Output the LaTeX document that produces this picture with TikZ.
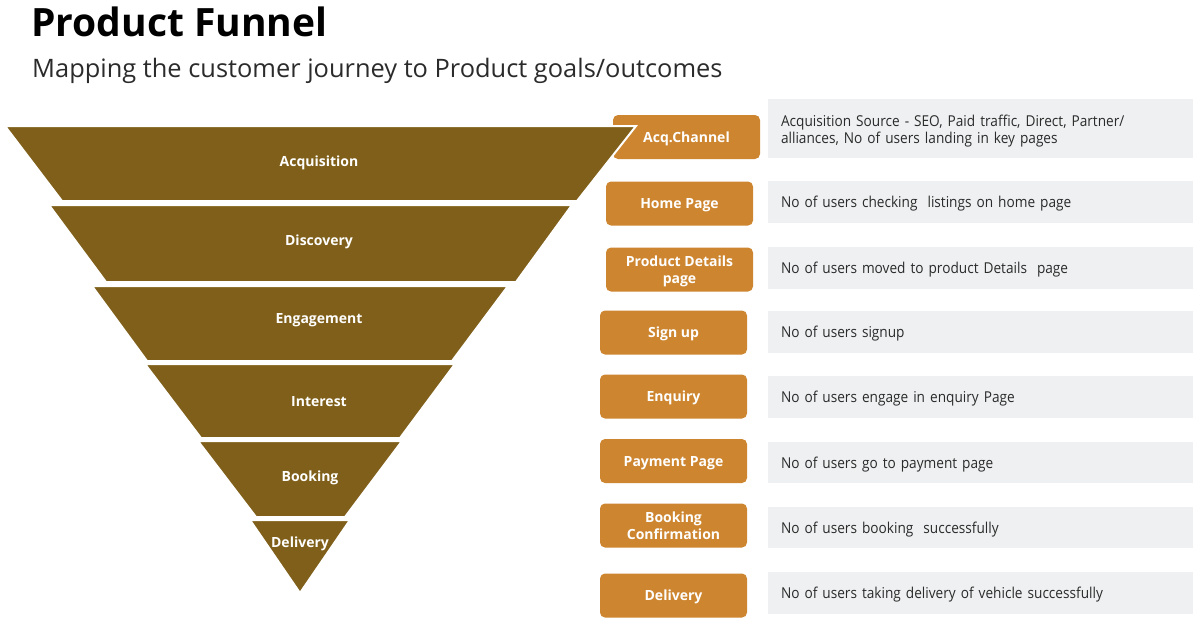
\documentclass[tikz,border=0pt]{standalone}
\usepackage{fontspec}
\setmainfont{Open Sans}
\newfontfamily\graytextfont{Open Sans}[FakeStretch=0.91]
\definecolor{funnel}{HTML}{7F5F19}
\definecolor{orangebox}{HTML}{CD862F}
\definecolor{graybox}{HTML}{EEF0F1}
\definecolor{txt}{HTML}{2B2B2B}
\begin{document}
\begin{tikzpicture}[x=1pt,y=-1pt,
  seg/.style={fill=funnel,draw=white,line width=2pt,line join=miter},
  seglabel/.style={text=white,font=\bfseries\fontsize{14}{17}\selectfont,inner sep=0pt},
  obox/.style={fill=orangebox,rounded corners=5pt,minimum width=147pt,minimum height=44pt,
    text=white,font=\bfseries\fontsize{14}{17}\selectfont,align=center,inner sep=0pt,text depth=0pt},
  gbox/.style={fill=graybox,text width=399pt,inner xsep=13pt,inner ysep=0pt,align=left,
    text=txt,font=\graytextfont\fontsize{15}{17}\selectfont,text depth=0pt}]
\useasboundingbox (0,0) rectangle (1200,630);
% titles
\node[anchor=base west,inner sep=0pt,font=\bfseries\fontsize{39}{42}\selectfont,text=black] (title) at (31,36) {Product Funnel};
\node[anchor=base west,inner sep=0pt,font=\fontsize{25.4}{28}\selectfont,text=txt] (subtitle) at (32,77) {Mapping the customer journey to Product goals/outcomes};
% orange boxes
\node[obox] (o1) at (686.5,137) {Acq.Channel};
\node[obox] (o2) at (679.5,203.5) {Home Page};
\node[obox] (o3) at (679.5,269.5) {Product Details\\page};
\node[obox] (o4) at (673.5,332.5) {Sign up};
\node[obox] (o5) at (673.5,396.5) {Enquiry};
\node[obox] (o6) at (673.5,461) {Payment Page};
\node[obox] (o7) at (673.5,525.5) {Booking\\Confirmation};
\node[obox] (o8) at (673.5,595.5) {Delivery};
% gray boxes
\node[gbox,minimum height=59pt,text depth=15pt] (g1) at (980.5,128.5) {Acquisition Source - SEO, Paid traffic, Direct, Partner/\\alliances, No of users landing in key pages};
\node[gbox,minimum height=42pt] (g2) at (980.5,202) {No of users checking\ \ listings on home page};
\node[gbox,minimum height=42pt] (g3) at (980.5,268) {No of users moved to product Details\ \ page};
\node[gbox,minimum height=42pt] (g4) at (980.5,332) {No of users signup};
\node[gbox,minimum height=42pt] (g5) at (980.5,397) {No of users engage in enquiry Page};
\node[gbox,minimum height=41pt] (g6) at (980.5,462.5) {No of users go to payment page};
\node[gbox,minimum height=41pt] (g7) at (980.5,527.5) {No of users booking\ \ successfully};
\node[gbox,minimum height=42pt] (g8) at (980.5,593) {No of users taking delivery of vehicle successfully};
% funnel
\draw[seg] (5,126) -- (636,126) -- (577,201) -- (62,201) -- cycle;
\draw[seg] (49,205) -- (572,205) -- (516,282) -- (106,282) -- cycle;
\draw[seg] (92,286) -- (508,286) -- (452,361) -- (147,361) -- cycle;
\draw[seg] (145,364) -- (455,364) -- (400,438) -- (201,438) -- cycle;
\draw[seg] (198,441) -- (402,441) -- (345,517) -- (256,517) -- cycle;
\draw[seg] (250,520) -- (350,520) -- (300,593) -- cycle;
\node[seglabel] (l1) at (319,163) {Acquisition};
\node[seglabel] (l2) at (319,242) {Discovery};
\node[seglabel] (l3) at (319,320) {Engagement};
\node[seglabel] (l4) at (319,402) {Interest};
\node[seglabel] (l5) at (310,478) {Booking};
\node[seglabel] (l6) at (300,544) {Delivery};
\end{tikzpicture}
\end{document}
